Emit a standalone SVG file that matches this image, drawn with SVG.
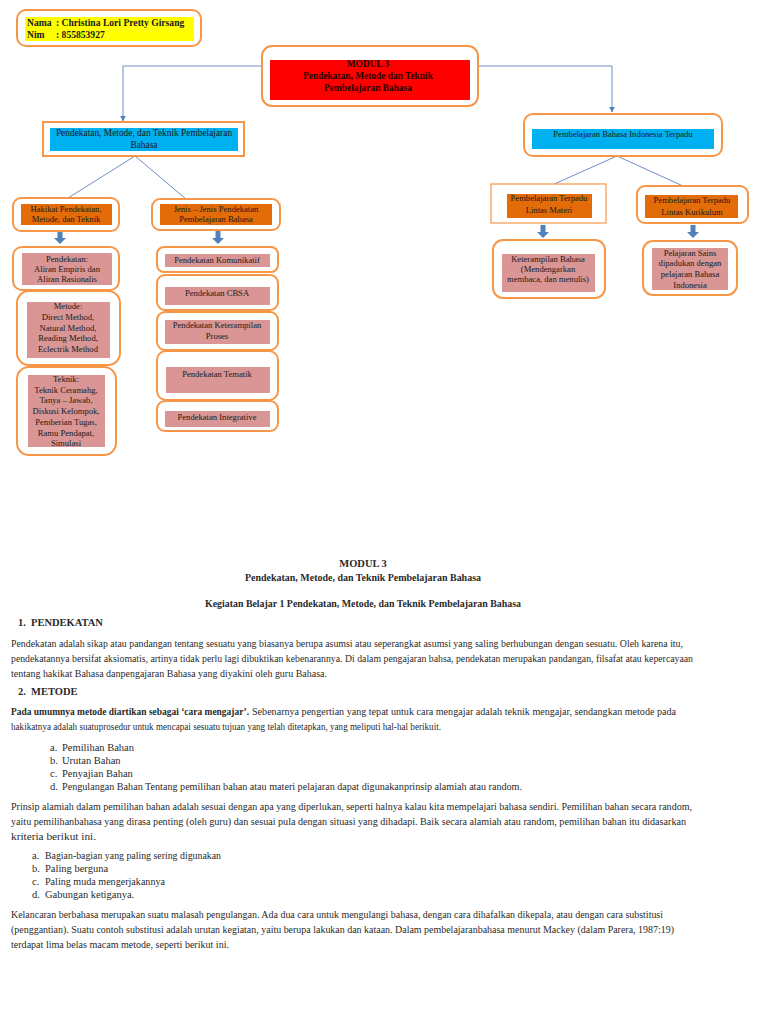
<svg xmlns="http://www.w3.org/2000/svg" width="768" height="1024" viewBox="0 0 768 1024">
<style>
.frame{fill:#fff;stroke:#F79646;stroke-width:2}
.thin{fill:#fff;stroke:#F79646;stroke-width:1.2}
.blue{fill:#00B0F0}
.org{fill:#E36C09}
.pink{fill:#D99694}
.t{font-family:"Liberation Serif",serif;font-size:8.6px;fill:#1a1a1a;text-anchor:middle}
.b{font-weight:bold}
.link{fill:none;stroke:#6F8FC4;stroke-width:1}
.blk{fill:#4F81BD}
.body{font-family:"Liberation Serif",serif;font-size:10.5px;fill:#2a2a2a}
.h{font-weight:bold;text-anchor:middle}
</style>
<defs>
<marker id="ah" viewBox="0 0 10 10" refX="9" refY="5" markerWidth="6" markerHeight="6" orient="auto">
<path d="M0,0 L10,5 L0,10 z" fill="#4F81BD"/>
</marker>
<path id="darrow" d="M-2.5,0 H2.5 V7 H6 L0,13 L-6,7 H-2.5 Z"/>
</defs>
<rect width="768" height="1024" fill="#fff"/>

<g id="connectors">
<polyline class="link" points="262,66 123,66 123,121" marker-end="url(#ah)"/>
<polyline class="link" points="478,66 612,66 612,112" marker-end="url(#ah)"/>
<line class="link" x1="135" y1="156" x2="68" y2="198"/>
<line class="link" x1="135" y1="156" x2="186" y2="199"/>
<line class="link" x1="617" y1="156" x2="552" y2="185"/>
<line class="link" x1="617" y1="156" x2="683" y2="186"/>
<use href="#darrow" class="blk" x="60" y="231"/>
<use href="#darrow" class="blk" x="218" y="231"/>
<use href="#darrow" class="blk" x="543" y="225"/>
<use href="#darrow" class="blk" x="693" y="225"/>
</g>

<g id="n-nama">
<rect class="frame" x="17" y="10" width="184" height="36" rx="9"/>
<rect x="25" y="17" width="169" height="24" fill="#FFFF00"/>
<text class="t b" style="text-anchor:start;font-size:9.6px"><tspan x="27" y="26">Nama</tspan><tspan x="56" y="26">: Christina Lori Pretty Girsang</tspan><tspan x="27" y="38">Nim</tspan><tspan x="56" y="38">: 855853927</tspan></text>
</g>

<g id="n-modul">
<rect class="frame" x="262" y="46" width="216" height="60" rx="10"/>
<rect x="270" y="60" width="200" height="40" fill="#FF0000"/>
<text class="t b" style="font-size:9.4px;fill:#2a0000"><tspan x="368" y="67">MODUL 3</tspan><tspan x="368" y="79">Pendekatan, Metode dan Teknik</tspan><tspan x="368" y="91">Pembelajaran Bahasa</tspan></text>
</g>

<g id="n-pmt">
<rect class="frame" x="43" y="122" width="201" height="34"/>
<rect class="blue" x="50" y="128" width="188" height="23"/>
<text class="t" style="font-size:9.4px"><tspan x="144" y="136">Pendekatan, Metode, dan Teknik Pembelajaran</tspan><tspan x="144" y="148">Bahasa</tspan></text>
</g>

<g id="n-pbit">
<rect class="frame" x="524" y="114" width="198" height="42" rx="9"/>
<rect class="blue" x="532" y="129" width="182" height="20"/>
<text class="t" x="623" y="137">Pembelajaran Bahasa Indonesia Terpadu</text>
</g>

<g id="n-hakikat">
<rect class="frame" x="13" y="198" width="106" height="33" rx="8"/>
<rect class="org" x="21" y="204" width="91" height="21"/>
<text class="t"><tspan x="66" y="212">Hakikat Pendekatan,</tspan><tspan x="66" y="222">Metode, dan Teknik</tspan></text>
</g>

<g id="n-jenis">
<rect class="frame" x="152" y="199" width="128" height="31" rx="8"/>
<rect class="org" x="160" y="204" width="112" height="21"/>
<text class="t"><tspan x="216" y="212">Jenis – Jenis Pendekatan</tspan><tspan x="216" y="222">Pembelajaran Bahasa</tspan></text>
</g>

<g id="n-materi">
<rect class="thin" x="491" y="184" width="115" height="39"/>
<rect class="org" x="507" y="194" width="85" height="24"/>
<text class="t"><tspan x="549" y="201">Pembelajaran Terpadu</tspan><tspan x="549" y="213">Lintas Materi</tspan></text>
</g>

<g id="n-kurikulum">
<rect class="frame" x="637" y="186" width="111" height="37" rx="8"/>
<rect class="org" x="645" y="195" width="93" height="23"/>
<text class="t"><tspan x="692" y="203">Pembelajaran Terpadu</tspan><tspan x="692" y="215">Lintas Kurikulum</tspan></text>
</g>

<g id="n-pendekatan">
<rect class="frame" x="13" y="247" width="106" height="43" rx="9"/>
<rect class="pink" x="22" y="253" width="90" height="32"/>
<text class="t"><tspan x="67" y="262">Pendekatan:</tspan><tspan x="67" y="272">Aliran Empiris dan</tspan><tspan x="67" y="282">Aliran Rasionalis</tspan></text>
</g>

<g id="n-metode">
<rect class="frame" x="17" y="291" width="103" height="74" rx="12"/>
<rect class="pink" x="27" y="302" width="83" height="56"/>
<text class="t"><tspan x="68" y="309">Metode:</tspan><tspan x="68" y="320">Direct Method,</tspan><tspan x="68" y="331">Natural Method,</tspan><tspan x="68" y="341">Reading Method,</tspan><tspan x="68" y="352">Eclectrik Method</tspan></text>
</g>

<g id="n-teknik">
<rect class="frame" x="17" y="367" width="99" height="88" rx="12"/>
<rect class="pink" x="28" y="375" width="77" height="72"/>
<text class="t"><tspan x="66" y="382">Teknik:</tspan><tspan x="66" y="393">Teknik Ceramahg,</tspan><tspan x="66" y="403">Tanya – Jawab,</tspan><tspan x="66" y="414">Diskusi Kelompok,</tspan><tspan x="66" y="425">Pemberian Tugas,</tspan><tspan x="66" y="436">Ramu Pendapat,</tspan><tspan x="66" y="446">Simulasi</tspan></text>
</g>

<g id="n-komunikatif">
<rect class="frame" x="157" y="247" width="121" height="25" rx="7"/>
<rect class="pink" x="165" y="254" width="105" height="13"/>
<text class="t" x="217" y="263">Pendekatan Komunikatif</text>
</g>

<g id="n-cbsa">
<rect class="frame" x="157" y="275" width="121" height="35" rx="8"/>
<rect class="pink" x="165" y="287" width="105" height="18"/>
<text class="t" x="217" y="296">Pendekatan CBSA</text>
</g>

<g id="n-proses">
<rect class="frame" x="157" y="312" width="121" height="38" rx="8"/>
<rect class="pink" x="165" y="320" width="105" height="24"/>
<text class="t"><tspan x="217" y="328">Pendekatan Keterampilan</tspan><tspan x="217" y="339">Proses</tspan></text>
</g>

<g id="n-tematik">
<rect class="frame" x="157" y="351" width="121" height="49" rx="9"/>
<rect class="pink" x="166" y="367" width="104" height="26"/>
<text class="t" x="217" y="377">Pendekatan Tematik</text>
</g>

<g id="n-integrative">
<rect class="frame" x="157" y="401" width="121" height="30" rx="8"/>
<rect class="pink" x="165" y="411" width="105" height="16"/>
<text class="t" x="217" y="420">Pendekatan Integrative</text>
</g>

<g id="n-ketbahasa">
<rect class="frame" x="493" y="240" width="112" height="58" rx="10"/>
<rect class="pink" x="502" y="254" width="93" height="38"/>
<text class="t"><tspan x="548" y="262">Keterampilan Bahasa</tspan><tspan x="548" y="272">(Mendengarkan</tspan><tspan x="548" y="282">membaca, dan menulis)</tspan></text>
</g>

<g id="n-sains">
<rect class="frame" x="643" y="241" width="94" height="54" rx="10"/>
<rect class="pink" x="652" y="248" width="76" height="42"/>
<text class="t"><tspan x="690" y="256">Pelajaran Sains</tspan><tspan x="690" y="266">dipadukan dengan</tspan><tspan x="690" y="277">pelajaran Bahasa</tspan><tspan x="690" y="288">Indonesia</tspan></text>
</g>

<g id="document" class="body">
<text class="h" x="363" y="567">MODUL 3</text>
<text class="h" x="363" y="581" textLength="236" lengthAdjust="spacingAndGlyphs">Pendekatan, Metode, dan Teknik Pembelajaran Bahasa</text>
<text class="h" x="363" y="607" textLength="316" lengthAdjust="spacingAndGlyphs">Kegiatan Belajar 1 Pendekatan, Metode, dan Teknik Pembelajaran Bahasa</text>
<text font-weight="bold" y="626"><tspan x="18">1.</tspan><tspan x="31">PENDEKATAN</tspan></text>
<text x="11" y="647" textLength="672" lengthAdjust="spacingAndGlyphs">Pendekatan adalah sikap atau pandangan tentang sesuatu yang biasanya berupa asumsi atau seperangkat asumsi yang saling berhubungan dengan sesuatu. Oleh karena itu,</text>
<text x="11" y="662" textLength="682" lengthAdjust="spacingAndGlyphs">pendekatannya bersifat aksiomatis, artinya tidak perlu lagi dibuktikan kebenarannya. Di dalam pengajaran bahsa, pendekatan merupakan pandangan, filsafat atau kepercayaan</text>
<text x="11" y="677" textLength="316" lengthAdjust="spacingAndGlyphs">tentang hakikat Bahasa danpengajaran Bahasa yang diyakini oleh guru Bahasa.</text>
<text font-weight="bold" y="695"><tspan x="18">2.</tspan><tspan x="31">METODE</tspan></text>
<text x="11" y="715" font-weight="bold" textLength="238" lengthAdjust="spacingAndGlyphs">Pada umumnya metode diartikan sebagai ‘cara mengajar’.</text>
<text x="252" y="715" textLength="424" lengthAdjust="spacingAndGlyphs">Sebenarnya pengertian yang tepat untuk cara mengajar adalah teknik mengajar, sendangkan metode pada</text>
<text x="11" y="730" textLength="430" lengthAdjust="spacingAndGlyphs">hakikatnya adalah suatuprosedur untuk mencapai sesuatu tujuan yang telah ditetapkan, yang meliputi hal-hal berikuit.</text>
<text y="751"><tspan x="50">a.</tspan><tspan x="62">Pemilihan Bahan</tspan></text>
<text y="764"><tspan x="50">b.</tspan><tspan x="62">Urutan Bahan</tspan></text>
<text y="777"><tspan x="50">c.</tspan><tspan x="62">Penyajian Bahan</tspan></text>
<text y="790"><tspan x="50">d.</tspan></text>
<text x="62" y="790" textLength="460" lengthAdjust="spacingAndGlyphs">Pengulangan Bahan Tentang pemilihan bahan atau materi pelajaran dapat digunakanprinsip alamiah atau random.</text>
<text x="11" y="810" textLength="681" lengthAdjust="spacingAndGlyphs">Prinsip alamiah dalam pemilihan bahan adalah sesuai dengan apa yang diperlukan, seperti halnya kalau kita mempelajari bahasa sendiri. Pemilihan bahan secara random,</text>
<text x="11" y="825" textLength="675" lengthAdjust="spacingAndGlyphs">yaitu pemilihanbahasa yang dirasa penting (oleh guru) dan sesuai pula dengan situasi yang dihadapi. Baik secara alamiah atau random, pemilihan bahan itu didasarkan</text>
<text x="11" y="840" textLength="85" lengthAdjust="spacingAndGlyphs">kriteria berikut ini.</text>
<text y="859"><tspan x="32">a.</tspan></text>
<text x="45" y="859" textLength="176" lengthAdjust="spacingAndGlyphs">Bagian-bagian yang paling sering digunakan</text>
<text y="872"><tspan x="32">b.</tspan><tspan x="45">Paling berguna</tspan></text>
<text y="885"><tspan x="32">c.</tspan></text>
<text x="45" y="885" textLength="120" lengthAdjust="spacingAndGlyphs">Paling muda mengerjakannya</text>
<text y="898"><tspan x="32">d.</tspan><tspan x="45">Gabungan ketiganya.</tspan></text>
<text x="11" y="918" textLength="652" lengthAdjust="spacingAndGlyphs">Kelancaran berbahasa merupakan suatu malasah pengulangan. Ada dua cara untuk mengulangi bahasa, dengan cara dihafalkan dikepala, atau dengan cara substitusi</text>
<text x="11" y="933" textLength="663" lengthAdjust="spacingAndGlyphs">(penggantian). Suatu contoh substitusi adalah urutan kegiatan, yaitu berupa lakukan dan kataan. Dalam pembelajaranbahasa menurut Mackey (dalam Parera, 1987:19)</text>
<text x="11" y="948" textLength="218" lengthAdjust="spacingAndGlyphs">terdapat lima belas macam metode, seperti berikut ini.</text>
</g>
</svg>
